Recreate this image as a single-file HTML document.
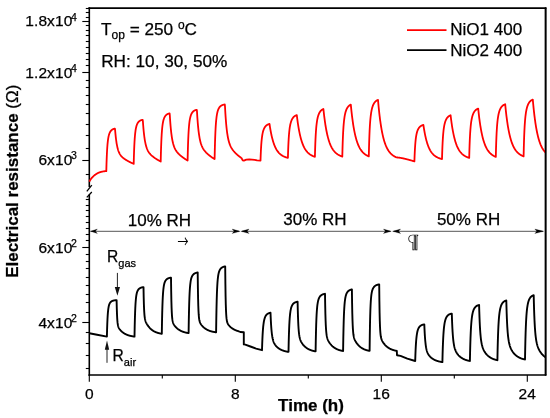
<!DOCTYPE html>
<html><head><meta charset="utf-8"><style>
html,body{margin:0;padding:0;background:#fff;}
svg{display:block;}
text{font-family:'Liberation Sans', Arial, sans-serif;fill:#000;stroke:#000;stroke-width:0.25px;}
</style></head><body>
<svg width="550" height="418" viewBox="0 0 550 418">
<rect width="550" height="418" fill="#fff"/>
<!-- frame -->
<g stroke="#000" stroke-width="1.6" fill="none" stroke-linecap="square">
<line x1="89.3" y1="8.1" x2="545.6" y2="8.1"/>
<line x1="545.6" y1="8.1" x2="545.6" y2="375.0"/>
<line x1="89.3" y1="375.0" x2="545.6" y2="375.0"/>
<line x1="89.3" y1="8.1" x2="89.3" y2="186.3"/>
<line x1="89.3" y1="195.4" x2="89.3" y2="375.0"/>
</g>
<g stroke="#000" stroke-width="1.3" fill="none">
<line x1="86.8" y1="191.3" x2="91.8" y2="185.2"/>
<line x1="86.8" y1="197.4" x2="91.8" y2="192.0"/>
</g>
<g stroke="#000" stroke-width="1.1"><line x1="85.8" y1="8.50" x2="89.3" y2="8.50"/><line x1="85.8" y1="12.50" x2="89.3" y2="12.50"/><line x1="85.8" y1="17.50" x2="89.3" y2="17.50"/><line x1="85.8" y1="25.50" x2="89.3" y2="25.50"/><line x1="85.8" y1="30.50" x2="89.3" y2="30.50"/><line x1="85.8" y1="35.50" x2="89.3" y2="35.50"/><line x1="85.8" y1="41.50" x2="89.3" y2="41.50"/><line x1="85.8" y1="47.50" x2="89.3" y2="47.50"/><line x1="85.8" y1="53.50" x2="89.3" y2="53.50"/><line x1="85.8" y1="59.50" x2="89.3" y2="59.50"/><line x1="85.8" y1="65.50" x2="89.3" y2="65.50"/><line x1="85.8" y1="80.50" x2="89.3" y2="80.50"/><line x1="85.8" y1="87.50" x2="89.3" y2="87.50"/><line x1="85.8" y1="95.50" x2="89.3" y2="95.50"/><line x1="85.8" y1="104.50" x2="89.3" y2="104.50"/><line x1="85.8" y1="113.50" x2="89.3" y2="113.50"/><line x1="85.8" y1="124.50" x2="89.3" y2="124.50"/><line x1="85.8" y1="135.50" x2="89.3" y2="135.50"/><line x1="85.8" y1="148.50" x2="89.3" y2="148.50"/><line x1="85.8" y1="174.50" x2="89.3" y2="174.50"/><line x1="85.8" y1="199.50" x2="89.3" y2="199.50"/><line x1="85.8" y1="205.50" x2="89.3" y2="205.50"/><line x1="85.8" y1="210.50" x2="89.3" y2="210.50"/><line x1="85.8" y1="216.50" x2="89.3" y2="216.50"/><line x1="85.8" y1="222.50" x2="89.3" y2="222.50"/><line x1="85.8" y1="228.50" x2="89.3" y2="228.50"/><line x1="85.8" y1="234.50" x2="89.3" y2="234.50"/><line x1="85.8" y1="240.50" x2="89.3" y2="240.50"/><line x1="85.8" y1="254.50" x2="89.3" y2="254.50"/><line x1="85.8" y1="261.50" x2="89.3" y2="261.50"/><line x1="85.8" y1="268.50" x2="89.3" y2="268.50"/><line x1="85.8" y1="277.50" x2="89.3" y2="277.50"/><line x1="85.8" y1="285.50" x2="89.3" y2="285.50"/><line x1="85.8" y1="294.50" x2="89.3" y2="294.50"/><line x1="85.8" y1="302.50" x2="89.3" y2="302.50"/><line x1="85.8" y1="312.50" x2="89.3" y2="312.50"/><line x1="85.8" y1="332.50" x2="89.3" y2="332.50"/><line x1="85.8" y1="343.50" x2="89.3" y2="343.50"/><line x1="85.8" y1="355.50" x2="89.3" y2="355.50"/><line x1="85.8" y1="368.50" x2="89.3" y2="368.50"/><line x1="82.3" y1="21.50" x2="89.3" y2="21.50"/><line x1="82.3" y1="72.50" x2="89.3" y2="72.50"/><line x1="82.3" y1="160.50" x2="89.3" y2="160.50"/><line x1="82.3" y1="247.50" x2="89.3" y2="247.50"/><line x1="82.3" y1="322.50" x2="89.3" y2="322.50"/><line x1="89.30" y1="375.0" x2="89.30" y2="381.8"/><line x1="235.30" y1="375.0" x2="235.30" y2="381.8"/><line x1="381.30" y1="375.0" x2="381.30" y2="381.8"/><line x1="527.30" y1="375.0" x2="527.30" y2="381.8"/><line x1="162.30" y1="375.0" x2="162.30" y2="378.5"/><line x1="308.30" y1="375.0" x2="308.30" y2="378.5"/><line x1="454.30" y1="375.0" x2="454.30" y2="378.5"/></g>
<!-- curves -->
<path d="M89.30 181.60L89.55 181.18L89.80 180.76L90.05 180.35L90.30 179.96L90.55 179.57L90.80 179.20L91.05 178.84L91.30 178.50L91.55 178.17L91.80 177.86L92.05 177.57L92.30 177.29L92.55 177.03L92.80 176.77L93.05 176.52L93.30 176.28L93.55 176.05L93.80 175.83L94.05 175.61L94.30 175.40L94.55 175.20L94.80 175.01L95.05 174.82L95.30 174.64L95.55 174.47L95.80 174.30L96.05 174.14L96.30 173.98L96.55 173.82L96.80 173.67L97.05 173.52L97.30 173.38L97.55 173.24L97.80 173.10L98.05 172.98L98.30 172.85L98.55 172.74L98.80 172.63L99.05 172.53L99.30 172.44L99.55 172.35L99.80 172.27L100.05 172.19L100.30 172.11L100.55 172.03L100.80 171.96L101.05 171.90L101.30 171.83L101.55 171.77L101.80 171.71L102.05 171.66L102.30 171.61L102.55 171.56L102.80 171.52L103.05 171.48L103.30 171.44L103.55 171.40L103.80 171.36L104.05 171.33L104.30 171.29L104.55 171.26L104.80 171.23L105.05 171.20L105.30 171.17L105.55 171.15L105.80 171.13L106.05 171.11L106.30 171.10L106.30 171.10L106.50 164.05L106.70 158.38L106.90 153.78L107.10 150.03L107.30 146.97L107.50 144.44L107.70 142.34L107.90 140.59L108.10 139.12L108.30 137.87L108.50 136.80L108.70 135.89L108.90 135.10L109.10 134.41L109.30 133.80L109.50 133.27L109.70 132.79L109.90 132.37L110.10 131.99L110.30 131.66L110.50 131.35L110.70 131.07L110.90 130.82L111.10 130.59L111.30 130.38L111.50 130.19L111.70 130.02L111.90 129.86L112.10 129.71L112.30 129.58L112.50 129.46L112.70 129.34L112.90 129.24L113.10 129.14L113.30 129.05L113.50 128.97L113.70 128.90L113.90 128.83L114.10 128.76L114.30 128.70L114.50 128.65L114.70 128.60L114.70 128.60L114.90 128.60L115.10 129.88L115.30 132.25L115.50 134.41L115.70 136.36L115.90 138.14L116.10 139.76L116.30 141.23L116.50 142.57L116.70 143.80L116.90 144.92L117.10 145.94L117.30 146.88L117.50 147.73L117.70 148.52L117.90 149.25L118.10 149.92L118.30 150.54L118.50 151.11L118.70 151.63L118.90 152.13L119.10 152.58L119.30 153.01L119.50 153.41L119.70 153.78L119.90 154.13L120.10 154.46L120.30 154.77L120.50 155.06L120.70 155.33L120.90 155.60L121.10 155.85L121.30 156.09L121.50 156.31L121.70 156.53L121.90 156.74L122.10 156.94L122.30 157.14L122.50 157.33L122.70 157.51L122.90 157.68L123.10 157.85L123.30 158.02L123.50 158.18L123.70 158.34L123.90 158.49L124.10 158.64L124.30 158.79L124.50 158.93L124.70 159.07L124.90 159.21L125.10 159.34L125.30 159.47L125.50 159.61L125.70 159.73L125.90 159.86L126.10 159.99L126.30 160.11L126.50 160.23L126.70 160.35L126.90 160.47L127.10 160.58L127.30 160.70L127.50 160.81L127.70 160.92L127.90 161.03L128.10 161.14L128.30 161.25L128.50 161.36L128.70 161.47L128.90 161.57L129.10 161.67L129.30 161.78L129.50 161.88L129.70 161.98L129.90 162.08L130.10 162.18L130.30 162.28L130.50 162.37L130.70 162.47L130.90 162.56L131.10 162.66L131.30 162.75L131.50 162.84L131.70 162.93L131.90 163.02L132.10 163.11L132.30 163.20L132.50 163.29L132.70 163.38L132.90 163.46L133.10 163.55L133.30 163.63L133.50 163.72L133.70 163.80L133.70 163.80L133.90 156.52L134.10 150.65L134.30 145.90L134.50 142.03L134.70 138.87L134.90 136.25L135.10 134.09L135.30 132.28L135.50 130.76L135.70 129.47L135.90 128.37L136.10 127.42L136.30 126.60L136.50 125.89L136.70 125.27L136.90 124.71L137.10 124.22L137.30 123.79L137.50 123.40L137.70 123.05L137.90 122.73L138.10 122.45L138.30 122.19L138.50 121.95L138.70 121.73L138.90 121.54L139.10 121.36L139.30 121.19L139.50 121.04L139.70 120.90L139.90 120.78L140.10 120.66L140.30 120.55L140.50 120.45L140.70 120.36L140.90 120.28L141.10 120.20L141.30 120.13L141.50 120.06L141.70 120.00L141.90 119.94L142.10 119.89L142.30 119.84L142.50 119.80L142.50 119.80L142.70 119.80L142.90 121.33L143.10 124.17L143.30 126.74L143.50 129.09L143.70 131.21L143.90 133.15L144.10 134.91L144.30 136.51L144.50 137.98L144.70 139.32L144.90 140.54L145.10 141.66L145.30 142.69L145.50 143.63L145.70 144.50L145.90 145.30L146.10 146.04L146.30 146.72L146.50 147.35L146.70 147.94L146.90 148.49L147.10 148.99L147.30 149.47L147.50 149.92L147.70 150.33L147.90 150.73L148.10 151.10L148.30 151.45L148.50 151.78L148.70 152.09L148.90 152.39L149.10 152.68L149.30 152.95L149.50 153.21L149.70 153.46L149.90 153.70L150.10 153.93L150.30 154.16L150.50 154.38L150.70 154.59L150.90 154.79L151.10 154.99L151.30 155.18L151.50 155.37L151.70 155.55L151.90 155.73L152.10 155.91L152.30 156.08L152.50 156.24L152.70 156.41L152.90 156.57L153.10 156.73L153.30 156.89L153.50 157.04L153.70 157.19L153.90 157.34L154.10 157.49L154.30 157.63L154.50 157.78L154.70 157.92L154.90 158.06L155.10 158.19L155.30 158.33L155.50 158.46L155.70 158.60L155.90 158.73L156.10 158.86L156.30 158.98L156.50 159.11L156.70 159.24L156.90 159.36L157.10 159.48L157.30 159.61L157.50 159.73L157.70 159.84L157.90 159.96L158.10 160.08L158.30 160.20L158.50 160.31L158.70 160.42L158.90 160.54L159.10 160.65L159.30 160.76L159.50 160.87L159.70 160.97L159.90 161.08L160.10 161.19L160.30 161.29L160.50 161.40L160.70 161.50L160.70 161.50L160.90 153.54L161.10 147.12L161.30 141.93L161.50 137.69L161.70 134.23L161.90 131.37L162.10 129.00L162.30 127.03L162.50 125.36L162.70 123.95L162.90 122.75L163.10 121.71L163.30 120.82L163.50 120.04L163.70 119.35L163.90 118.75L164.10 118.22L164.30 117.74L164.50 117.31L164.70 116.93L164.90 116.58L165.10 116.27L165.30 115.99L165.50 115.73L165.70 115.49L165.90 115.28L166.10 115.08L166.30 114.90L166.50 114.73L166.70 114.58L166.90 114.44L167.10 114.32L167.30 114.20L167.50 114.09L167.70 113.99L167.90 113.90L168.10 113.81L168.30 113.73L168.50 113.66L168.70 113.59L168.90 113.53L169.10 113.48L169.30 113.42L169.40 113.40L169.60 113.40L169.80 115.13L170.00 118.33L170.20 121.24L170.40 123.89L170.60 126.29L170.80 128.48L171.00 130.46L171.20 132.28L171.40 133.93L171.60 135.44L171.80 136.83L172.00 138.09L172.20 139.25L172.40 140.32L172.60 141.30L172.80 142.20L173.00 143.03L173.20 143.81L173.40 144.52L173.60 145.18L173.80 145.80L174.00 146.38L174.20 146.91L174.40 147.42L174.60 147.89L174.80 148.33L175.00 148.75L175.20 149.14L175.40 149.52L175.60 149.87L175.80 150.21L176.00 150.53L176.20 150.84L176.40 151.14L176.60 151.42L176.80 151.69L177.00 151.96L177.20 152.21L177.40 152.45L177.60 152.69L177.80 152.92L178.00 153.14L178.20 153.36L178.40 153.57L178.60 153.78L178.80 153.98L179.00 154.18L179.20 154.37L179.40 154.56L179.60 154.75L179.80 154.93L180.00 155.11L180.20 155.29L180.40 155.46L180.60 155.63L180.80 155.80L181.00 155.97L181.20 156.13L181.40 156.29L181.60 156.45L181.80 156.61L182.00 156.76L182.20 156.92L182.40 157.07L182.60 157.22L182.80 157.37L183.00 157.51L183.20 157.66L183.40 157.80L183.60 157.94L183.80 158.08L184.00 158.22L184.20 158.36L184.40 158.50L184.60 158.63L184.80 158.76L185.00 158.90L185.20 159.03L185.40 159.16L185.60 159.28L185.80 159.41L186.00 159.54L186.20 159.66L186.40 159.78L186.60 159.91L186.80 160.03L187.00 160.15L187.20 160.27L187.40 160.38L187.60 160.50L187.60 160.50L187.80 152.12L188.00 145.37L188.20 139.90L188.40 135.44L188.60 131.80L188.80 128.79L189.00 126.30L189.20 124.21L189.40 122.46L189.60 120.98L189.80 119.71L190.00 118.62L190.20 117.68L190.40 116.86L190.60 116.14L190.80 115.50L191.00 114.94L191.20 114.44L191.40 113.99L191.60 113.59L191.80 113.22L192.00 112.89L192.20 112.59L192.40 112.32L192.60 112.07L192.80 111.85L193.00 111.64L193.20 111.45L193.40 111.28L193.60 111.12L193.80 110.97L194.00 110.83L194.20 110.71L194.40 110.60L194.60 110.49L194.80 110.39L195.00 110.30L195.20 110.22L195.40 110.15L195.60 110.08L195.80 110.01L196.00 109.95L196.20 109.90L196.40 109.85L196.60 109.80L196.80 109.80L197.00 111.61L197.20 114.98L197.40 118.03L197.60 120.80L197.80 123.33L198.00 125.62L198.20 127.71L198.40 129.61L198.60 131.34L198.80 132.93L199.00 134.38L199.20 135.71L199.40 136.93L199.60 138.04L199.80 139.07L200.00 140.02L200.20 140.90L200.40 141.71L200.60 142.45L200.80 143.15L201.00 143.80L201.20 144.40L201.40 144.96L201.60 145.49L201.80 145.99L202.00 146.45L202.20 146.89L202.40 147.31L202.60 147.70L202.80 148.07L203.00 148.43L203.20 148.77L203.40 149.09L203.60 149.40L203.80 149.70L204.00 149.98L204.20 150.26L204.40 150.52L204.60 150.78L204.80 151.03L205.00 151.27L205.20 151.50L205.40 151.73L205.60 151.95L205.80 152.17L206.00 152.38L206.20 152.59L206.40 152.79L206.60 152.99L206.80 153.19L207.00 153.38L207.20 153.57L207.40 153.75L207.60 153.94L207.80 154.12L208.00 154.29L208.20 154.47L208.40 154.64L208.60 154.81L208.80 154.97L209.00 155.14L209.20 155.30L209.40 155.46L209.60 155.62L209.80 155.78L210.00 155.94L210.20 156.09L210.40 156.24L210.60 156.39L210.80 156.54L211.00 156.69L211.20 156.83L211.40 156.98L211.60 157.12L211.80 157.26L212.00 157.40L212.20 157.54L212.40 157.68L212.60 157.81L212.80 157.95L213.00 158.08L213.20 158.21L213.40 158.34L213.60 158.47L213.80 158.60L214.00 158.73L214.20 158.85L214.40 158.98L214.60 159.10L214.60 159.10L214.60 159.10L214.80 150.11L215.00 142.86L215.20 136.99L215.40 132.21L215.60 128.30L215.80 125.07L216.00 122.40L216.20 120.16L216.40 118.28L216.60 116.69L216.80 115.33L217.00 114.16L217.20 113.15L217.40 112.27L217.60 111.50L217.80 110.82L218.00 110.21L218.20 109.68L218.40 109.19L218.60 108.76L218.80 108.37L219.00 108.02L219.20 107.70L219.40 107.40L219.60 107.14L219.80 106.90L220.00 106.67L220.20 106.47L220.40 106.28L220.60 106.11L220.80 105.95L221.00 105.81L221.20 105.68L221.40 105.55L221.60 105.44L221.80 105.34L222.00 105.24L222.20 105.15L222.40 105.07L222.60 105.00L222.80 104.93L223.00 104.86L223.20 104.80L223.40 104.75L223.60 104.70L223.80 104.65L224.00 104.61L224.20 104.57L224.40 104.53L224.60 104.50L224.80 104.50L225.00 106.50L225.20 110.21L225.40 113.58L225.60 116.64L225.80 119.41L226.00 121.94L226.20 124.25L226.40 126.34L226.60 128.26L226.80 130.01L227.00 131.61L227.20 133.07L227.40 134.41L227.60 135.65L227.80 136.78L228.00 137.83L228.20 138.79L228.40 139.68L228.60 140.51L228.80 141.28L229.00 141.99L229.20 142.66L229.40 143.28L229.60 143.86L229.80 144.41L230.00 144.92L230.20 145.40L230.40 145.86L230.60 146.29L230.80 146.70L231.00 147.10L231.20 147.47L231.40 147.82L231.60 148.17L231.80 148.49L232.00 148.81L232.20 149.11L232.40 149.41L232.60 149.69L232.80 149.96L233.00 150.23L233.20 150.49L233.40 150.74L233.60 150.99L233.80 151.22L234.00 151.46L234.20 151.69L234.40 151.91L234.60 152.13L234.80 152.35L235.00 152.56L235.20 152.77L235.40 152.97L235.60 153.17L235.80 153.37L236.00 153.56L236.20 153.76L236.40 153.94L236.60 154.13L236.80 154.32L237.00 154.50L237.20 154.68L237.40 154.85L237.60 155.03L237.80 155.20L238.00 155.37L238.20 155.54L238.40 155.71L238.60 155.88L238.80 156.04L239.00 156.20L239.20 156.36L239.40 156.52L239.60 156.68L239.80 156.84L240.00 156.99L240.20 157.14L240.40 157.29L240.60 157.44L240.80 157.59L241.00 157.74L241.20 157.88L241.40 158.03L241.50 158.10L242.70 160.30L243.90 160.70L246.30 159.70L249.30 159.40L254.70 159.90L257.10 160.40L260.50 160.70L260.50 160.70L260.70 155.25L260.90 150.81L261.10 147.17L261.30 144.16L261.50 141.66L261.70 139.57L261.90 137.80L262.10 136.29L262.30 135.00L262.50 133.88L262.70 132.90L262.90 132.05L263.10 131.29L263.30 130.62L263.50 130.02L263.70 129.48L263.90 128.99L264.10 128.54L264.30 128.14L264.50 127.77L264.70 127.43L264.90 127.12L265.10 126.84L265.30 126.57L265.50 126.33L265.70 126.10L265.90 125.90L266.10 125.70L266.30 125.52L266.50 125.36L266.70 125.20L266.90 125.06L267.10 124.93L267.30 124.80L267.50 124.69L267.70 124.58L267.90 124.48L268.10 124.39L268.30 124.30L268.50 124.22L268.70 124.15L268.90 124.08L269.10 124.02L269.30 123.96L269.50 123.90L269.70 125.25L269.90 126.55L270.10 127.79L270.30 128.99L270.50 130.13L270.70 131.23L270.90 132.29L271.10 133.30L271.30 134.27L271.50 135.20L271.70 136.10L271.90 136.96L272.10 137.78L272.30 138.57L272.50 139.33L272.70 140.06L272.90 140.77L273.10 141.44L273.30 142.09L273.50 142.71L273.70 143.30L273.90 143.88L274.10 144.43L274.30 144.96L274.50 145.47L274.70 145.96L274.90 146.43L275.10 146.88L275.30 147.31L275.50 147.73L275.70 148.13L275.90 148.52L276.10 148.89L276.30 149.25L276.50 149.59L276.70 149.93L276.90 150.24L277.10 150.55L277.30 150.85L277.50 151.13L277.70 151.41L277.90 151.67L278.10 151.93L278.30 152.17L278.50 152.41L278.70 152.64L278.90 152.86L279.10 153.07L279.30 153.27L279.50 153.47L279.70 153.66L279.90 153.85L280.10 154.02L280.30 154.20L280.50 154.36L280.70 154.52L280.90 154.68L281.10 154.83L281.30 154.97L281.50 155.11L281.70 155.25L281.90 155.38L282.10 155.50L282.30 155.62L282.50 155.74L282.70 155.86L282.90 155.97L283.10 156.08L283.30 156.18L283.50 156.28L283.70 156.38L283.90 156.48L284.10 156.57L284.30 156.66L284.50 156.74L284.70 156.83L284.90 156.91L285.10 156.99L285.30 157.07L285.50 157.14L285.70 157.21L285.90 157.29L286.10 157.35L286.30 157.42L286.50 157.49L286.70 157.55L286.90 157.61L287.10 157.67L287.30 157.73L287.50 157.79L287.70 157.85L287.90 157.90L287.90 157.90L288.10 151.56L288.30 146.39L288.50 142.15L288.70 138.65L288.90 135.74L289.10 133.30L289.30 131.24L289.50 129.49L289.70 127.98L289.90 126.68L290.10 125.55L290.30 124.55L290.50 123.67L290.70 122.89L290.90 122.19L291.10 121.56L291.30 120.99L291.50 120.47L291.70 120.00L291.90 119.57L292.10 119.18L292.30 118.82L292.50 118.49L292.70 118.18L292.90 117.90L293.10 117.63L293.30 117.39L293.50 117.17L293.70 116.96L293.90 116.77L294.10 116.59L294.30 116.42L294.50 116.26L294.70 116.12L294.90 115.99L295.10 115.86L295.30 115.75L295.50 115.64L295.70 115.54L295.90 115.45L296.10 115.36L296.30 115.28L296.50 115.20L296.70 115.13L296.80 115.10L297.00 116.76L297.20 118.36L297.40 119.89L297.60 121.36L297.80 122.76L298.00 124.12L298.20 125.41L298.40 126.66L298.60 127.85L298.80 129.00L299.00 130.10L299.20 131.15L299.40 132.17L299.60 133.14L299.80 134.08L300.00 134.97L300.20 135.84L300.40 136.66L300.60 137.46L300.80 138.22L301.00 138.96L301.20 139.66L301.40 140.34L301.60 140.99L301.80 141.61L302.00 142.22L302.20 142.79L302.40 143.35L302.60 143.88L302.80 144.40L303.00 144.89L303.20 145.37L303.40 145.83L303.60 146.27L303.80 146.69L304.00 147.10L304.20 147.49L304.40 147.87L304.60 148.23L304.80 148.58L305.00 148.92L305.20 149.24L305.40 149.56L305.60 149.86L305.80 150.15L306.00 150.43L306.20 150.70L306.40 150.96L306.60 151.21L306.80 151.46L307.00 151.69L307.20 151.92L307.40 152.14L307.60 152.35L307.80 152.55L308.00 152.75L308.20 152.94L308.40 153.12L308.60 153.30L308.80 153.47L309.00 153.64L309.20 153.80L309.40 153.95L309.60 154.10L309.80 154.25L310.00 154.39L310.20 154.53L310.40 154.66L310.60 154.79L310.80 154.91L311.00 155.03L311.20 155.15L311.40 155.26L311.60 155.37L311.80 155.48L312.00 155.58L312.20 155.68L312.40 155.78L312.60 155.88L312.80 155.97L313.00 156.06L313.20 156.15L313.40 156.23L313.60 156.31L313.80 156.39L314.00 156.47L314.20 156.55L314.40 156.62L314.60 156.69L314.80 156.77L314.90 156.80L314.90 156.80L315.10 149.69L315.30 143.90L315.50 139.16L315.70 135.23L315.90 131.97L316.10 129.24L316.30 126.93L316.50 124.97L316.70 123.28L316.90 121.82L317.10 120.55L317.30 119.43L317.50 118.45L317.70 117.57L317.90 116.79L318.10 116.08L318.30 115.44L318.50 114.86L318.70 114.34L318.90 113.86L319.10 113.42L319.30 113.01L319.50 112.64L319.70 112.29L319.90 111.98L320.10 111.68L320.30 111.41L320.50 111.16L320.70 110.93L320.90 110.71L321.10 110.51L321.30 110.32L321.50 110.15L321.70 109.99L321.90 109.84L322.10 109.70L322.30 109.57L322.50 109.45L322.70 109.33L322.90 109.23L323.10 109.13L323.30 109.04L323.40 109.00L323.60 110.89L323.80 112.70L324.00 114.43L324.20 116.10L324.40 117.69L324.60 119.23L324.80 120.70L325.00 122.11L325.20 123.47L325.40 124.77L325.60 126.01L325.80 127.21L326.00 128.36L326.20 129.47L326.40 130.53L326.60 131.54L326.80 132.52L327.00 133.46L327.20 134.36L327.40 135.23L327.60 136.06L327.80 136.86L328.00 137.63L328.20 138.37L328.40 139.08L328.60 139.76L328.80 140.41L329.00 141.05L329.20 141.65L329.40 142.23L329.60 142.80L329.80 143.33L330.00 143.85L330.20 144.35L330.40 144.83L330.60 145.30L330.80 145.74L331.00 146.17L331.20 146.58L331.40 146.98L331.60 147.36L331.80 147.73L332.00 148.09L332.20 148.43L332.40 148.76L332.60 149.08L332.80 149.39L333.00 149.68L333.20 149.97L333.40 150.24L333.60 150.51L333.80 150.77L334.00 151.01L334.20 151.25L334.40 151.48L334.60 151.71L334.80 151.92L335.00 152.13L335.20 152.33L335.40 152.53L335.60 152.72L335.80 152.90L336.00 153.07L336.20 153.24L336.40 153.41L336.60 153.57L336.80 153.72L337.00 153.88L337.20 154.02L337.40 154.16L337.60 154.30L337.80 154.43L338.00 154.56L338.20 154.68L338.40 154.81L338.60 154.92L338.80 155.04L339.00 155.15L339.20 155.26L339.40 155.36L339.60 155.46L339.80 155.56L340.00 155.66L340.20 155.75L340.40 155.84L340.60 155.93L340.80 156.02L341.00 156.10L341.20 156.18L341.40 156.26L341.60 156.34L341.80 156.42L342.00 156.49L342.20 156.56L342.30 156.60L342.30 156.60L342.50 148.87L342.70 142.57L342.90 137.41L343.10 133.14L343.30 129.59L343.50 126.62L343.70 124.11L343.90 121.97L344.10 120.13L344.30 118.55L344.50 117.17L344.70 115.95L344.90 114.88L345.10 113.92L345.30 113.07L345.50 112.30L345.70 111.61L345.90 110.98L346.10 110.41L346.30 109.88L346.50 109.40L346.70 108.96L346.90 108.56L347.10 108.18L347.30 107.84L347.50 107.52L347.70 107.22L347.90 106.95L348.10 106.70L348.30 106.46L348.50 106.24L348.70 106.04L348.90 105.85L349.10 105.67L349.30 105.51L349.50 105.36L349.70 105.22L349.90 105.09L350.10 104.96L350.30 104.85L350.50 104.75L350.70 104.65L350.80 104.60L351.00 106.67L351.20 108.65L351.40 110.55L351.60 112.38L351.80 114.13L352.00 115.81L352.20 117.42L352.40 118.97L352.60 120.45L352.80 121.88L353.00 123.25L353.20 124.56L353.40 125.82L353.60 127.03L353.80 128.19L354.00 129.31L354.20 130.38L354.40 131.41L354.60 132.40L354.80 133.35L355.00 134.26L355.20 135.13L355.40 135.98L355.60 136.79L355.80 137.56L356.00 138.31L356.20 139.03L356.40 139.72L356.60 140.39L356.80 141.02L357.00 141.64L357.20 142.23L357.40 142.80L357.60 143.35L357.80 143.87L358.00 144.38L358.20 144.87L358.40 145.34L358.60 145.79L358.80 146.23L359.00 146.65L359.20 147.05L359.40 147.44L359.60 147.81L359.80 148.18L360.00 148.53L360.20 148.86L360.40 149.19L360.60 149.50L360.80 149.80L361.00 150.09L361.20 150.37L361.40 150.65L361.60 150.91L361.80 151.16L362.00 151.41L362.20 151.64L362.40 151.87L362.60 152.09L362.80 152.30L363.00 152.51L363.20 152.71L363.40 152.90L363.60 153.09L363.80 153.27L364.00 153.45L364.20 153.62L364.40 153.78L364.60 153.94L364.80 154.10L365.00 154.25L365.20 154.39L365.40 154.53L365.60 154.67L365.80 154.80L366.00 154.93L366.20 155.06L366.40 155.18L366.60 155.29L366.80 155.41L367.00 155.52L367.20 155.63L367.40 155.74L367.60 155.84L367.80 155.94L368.00 156.04L368.20 156.13L368.40 156.22L368.60 156.31L368.80 156.40L368.80 156.40L368.80 156.40L369.00 148.05L369.20 141.24L369.40 135.66L369.60 131.05L369.80 127.21L370.00 124.00L370.20 121.29L370.40 118.98L370.60 116.99L370.80 115.28L371.00 113.78L371.20 112.47L371.40 111.31L371.60 110.28L371.80 109.36L372.00 108.53L372.20 107.78L372.40 107.10L372.60 106.48L372.80 105.92L373.00 105.40L373.20 104.92L373.40 104.48L373.60 104.08L373.80 103.71L374.00 103.36L374.20 103.04L374.40 102.74L374.60 102.47L374.80 102.22L375.00 101.98L375.20 101.76L375.40 101.56L375.60 101.37L375.80 101.19L376.00 101.03L376.20 100.87L376.40 100.73L376.60 100.60L376.80 100.48L377.00 100.36L377.20 100.26L377.40 100.16L377.60 100.07L377.80 99.98L378.00 99.90L378.20 102.19L378.40 104.38L378.60 106.49L378.80 108.51L379.00 110.44L379.20 112.30L379.40 114.09L379.60 115.80L379.80 117.44L380.00 119.02L380.20 120.53L380.40 121.98L380.60 123.38L380.80 124.72L381.00 126.00L381.20 127.24L381.40 128.42L381.60 129.56L381.80 130.65L382.00 131.71L382.20 132.71L382.40 133.68L382.60 134.62L382.80 135.51L383.00 136.37L383.20 137.20L383.40 137.99L383.60 138.76L383.80 139.49L384.00 140.20L384.20 140.88L384.40 141.54L384.60 142.16L384.80 142.77L385.00 143.35L385.20 143.91L385.40 144.45L385.60 144.97L385.80 145.47L386.00 145.96L386.20 146.42L386.40 146.87L386.60 147.30L386.80 147.71L387.00 148.11L387.20 148.50L387.40 148.87L387.60 149.23L387.80 149.58L388.00 149.91L388.20 150.23L388.40 150.55L388.60 150.85L388.80 151.14L389.00 151.42L389.20 151.69L389.40 151.95L389.60 152.20L389.80 152.45L390.00 152.68L390.20 152.91L390.40 153.13L390.60 153.35L390.80 153.55L391.00 153.75L391.20 153.95L391.40 154.13L391.60 154.32L391.80 154.49L392.00 154.66L392.20 154.83L392.40 154.99L392.60 155.15L392.80 155.30L393.00 155.44L393.20 155.59L393.40 155.73L393.60 155.86L393.80 155.99L394.00 156.12L394.20 156.24L394.40 156.36L394.60 156.48L394.80 156.59L395.00 156.70L395.20 156.81L395.40 156.91L395.60 157.02L395.80 157.12L396.00 157.21L396.20 157.31L396.40 157.40L396.65 157.42L396.90 157.44L397.15 157.46L397.40 157.49L397.65 157.51L397.90 157.54L398.15 157.56L398.40 157.59L398.65 157.62L398.90 157.65L399.15 157.68L399.40 157.72L399.65 157.75L399.90 157.79L400.15 157.82L400.40 157.86L400.65 157.90L400.90 157.94L401.15 157.99L401.40 158.03L401.65 158.08L401.90 158.13L402.15 158.18L402.40 158.23L402.65 158.28L402.90 158.34L403.15 158.39L403.40 158.45L403.65 158.50L403.90 158.56L404.15 158.62L404.40 158.68L404.65 158.74L404.90 158.80L405.15 158.86L405.40 158.93L405.65 158.99L405.90 159.05L406.15 159.11L406.40 159.18L406.65 159.24L406.90 159.30L407.15 159.36L407.40 159.42L407.65 159.49L407.90 159.55L408.15 159.61L408.40 159.68L408.65 159.74L408.90 159.81L409.15 159.87L409.40 159.94L409.65 160.01L409.90 160.08L410.15 160.15L410.40 160.22L410.65 160.29L410.90 160.36L411.15 160.43L411.40 160.50L411.65 160.57L411.90 160.64L412.15 160.72L412.40 160.79L412.65 160.87L412.90 160.94L413.15 161.02L413.40 161.09L413.65 161.17L413.90 161.24L414.15 161.32L414.40 161.40L414.40 161.40L414.60 156.00L414.80 151.59L415.00 147.98L415.20 145.00L415.40 142.52L415.60 140.44L415.80 138.68L416.00 137.19L416.20 135.91L416.40 134.80L416.60 133.83L416.80 132.98L417.00 132.23L417.20 131.57L417.40 130.97L417.60 130.43L417.80 129.95L418.00 129.51L418.20 129.11L418.40 128.74L418.60 128.40L418.80 128.10L419.00 127.81L419.20 127.55L419.40 127.31L419.60 127.09L419.80 126.88L420.00 126.69L420.20 126.51L420.40 126.35L420.60 126.19L420.80 126.05L421.00 125.92L421.20 125.80L421.40 125.68L421.60 125.58L421.80 125.48L422.00 125.39L422.20 125.30L422.40 125.22L422.60 125.15L422.80 125.08L423.00 125.02L423.20 124.96L423.40 124.90L423.60 126.26L423.80 127.56L424.00 128.81L424.20 130.01L424.40 131.16L424.60 132.27L424.80 133.32L425.00 134.34L425.20 135.32L425.40 136.25L425.60 137.15L425.80 138.01L426.00 138.84L426.20 139.64L426.40 140.40L426.60 141.13L426.80 141.84L427.00 142.51L427.20 143.16L427.40 143.79L427.60 144.39L427.80 144.96L428.00 145.52L428.20 146.05L428.40 146.56L428.60 147.05L428.80 147.52L429.00 147.98L429.20 148.41L429.40 148.83L429.60 149.24L429.80 149.63L430.00 150.00L430.20 150.36L430.40 150.70L430.60 151.04L430.80 151.36L431.00 151.67L431.20 151.96L431.40 152.25L431.60 152.53L431.80 152.79L432.00 153.05L432.20 153.29L432.40 153.53L432.60 153.76L432.80 153.98L433.00 154.20L433.20 154.40L433.40 154.60L433.60 154.79L433.80 154.98L434.00 155.15L434.20 155.33L434.40 155.49L434.60 155.65L434.80 155.81L435.00 155.96L435.20 156.10L435.40 156.24L435.60 156.38L435.80 156.51L436.00 156.64L436.20 156.76L436.40 156.88L436.60 157.00L436.80 157.11L437.00 157.22L437.20 157.32L437.40 157.42L437.60 157.52L437.80 157.62L438.00 157.71L438.20 157.80L438.40 157.89L438.60 157.97L438.80 158.05L439.00 158.13L439.20 158.21L439.40 158.29L439.60 158.36L439.80 158.43L440.00 158.50L440.20 158.57L440.40 158.63L440.60 158.70L440.80 158.76L441.00 158.82L441.20 158.88L441.40 158.94L441.60 158.99L441.80 159.05L442.00 159.10L442.00 159.10L442.00 159.10L442.20 152.60L442.40 147.29L442.60 142.95L442.80 139.36L443.00 136.37L443.20 133.87L443.40 131.75L443.60 129.96L443.80 128.41L444.00 127.08L444.20 125.91L444.40 124.89L444.60 123.99L444.80 123.19L445.00 122.47L445.20 121.82L445.40 121.24L445.60 120.71L445.80 120.22L446.00 119.78L446.20 119.38L446.40 119.01L446.60 118.67L446.80 118.35L447.00 118.06L447.20 117.79L447.40 117.55L447.60 117.31L447.80 117.10L448.00 116.90L448.20 116.72L448.40 116.55L448.60 116.39L448.80 116.24L449.00 116.10L449.20 115.98L449.40 115.86L449.60 115.75L449.80 115.64L450.00 115.55L450.20 115.46L450.40 115.38L450.60 115.30L450.60 115.30L450.80 116.99L451.00 118.62L451.20 120.17L451.40 121.67L451.60 123.10L451.80 124.47L452.00 125.79L452.20 127.06L452.40 128.28L452.60 129.44L452.80 130.56L453.00 131.64L453.20 132.67L453.40 133.66L453.60 134.61L453.80 135.52L454.00 136.40L454.20 137.24L454.40 138.05L454.60 138.83L454.80 139.57L455.00 140.29L455.20 140.98L455.40 141.64L455.60 142.28L455.80 142.89L456.00 143.48L456.20 144.04L456.40 144.59L456.60 145.11L456.80 145.61L457.00 146.10L457.20 146.56L457.40 147.01L457.60 147.44L457.80 147.86L458.00 148.26L458.20 148.64L458.40 149.01L458.60 149.37L458.80 149.71L459.00 150.04L459.20 150.36L459.40 150.67L459.60 150.96L459.80 151.25L460.00 151.53L460.20 151.79L460.40 152.05L460.60 152.29L460.80 152.53L461.00 152.76L461.20 152.99L461.40 153.20L461.60 153.41L461.80 153.61L462.00 153.80L462.20 153.99L462.40 154.17L462.60 154.34L462.80 154.51L463.00 154.68L463.20 154.83L463.40 154.99L463.60 155.14L463.80 155.28L464.00 155.42L464.20 155.55L464.40 155.68L464.60 155.81L464.80 155.93L465.00 156.05L465.20 156.17L465.40 156.28L465.60 156.39L465.80 156.49L466.00 156.59L466.20 156.69L466.40 156.79L466.60 156.88L466.80 156.98L467.00 157.07L467.20 157.15L467.40 157.24L467.60 157.32L467.80 157.40L468.00 157.47L468.20 157.55L468.40 157.62L468.60 157.70L468.80 157.77L469.00 157.83L469.20 157.90L469.20 157.90L469.40 150.60L469.60 144.65L469.80 139.78L470.00 135.75L470.20 132.40L470.40 129.59L470.60 127.22L470.80 125.20L471.00 123.47L471.20 121.97L471.40 120.66L471.60 119.52L471.80 118.50L472.00 117.60L472.20 116.80L472.40 116.07L472.60 115.42L472.80 114.82L473.00 114.28L473.20 113.79L473.40 113.33L473.60 112.92L473.80 112.53L474.00 112.18L474.20 111.86L474.40 111.55L474.60 111.27L474.80 111.02L475.00 110.78L475.20 110.55L475.40 110.35L475.60 110.16L475.80 109.98L476.00 109.81L476.20 109.66L476.40 109.51L476.60 109.38L476.80 109.26L477.00 109.14L477.20 109.03L477.40 108.93L477.60 108.84L477.80 108.76L478.00 108.67L478.20 108.60L478.40 110.53L478.60 112.39L478.80 114.17L479.00 115.88L479.20 117.52L479.40 119.09L479.60 120.60L479.80 122.04L480.00 123.43L480.20 124.77L480.40 126.05L480.60 127.27L480.80 128.45L481.00 129.59L481.20 130.67L481.40 131.72L481.60 132.72L481.80 133.68L482.00 134.61L482.20 135.50L482.40 136.35L482.60 137.17L482.80 137.96L483.00 138.71L483.20 139.44L483.40 140.14L483.60 140.81L483.80 141.46L484.00 142.08L484.20 142.68L484.40 143.26L484.60 143.81L484.80 144.34L485.00 144.85L485.20 145.35L485.40 145.82L485.60 146.28L485.80 146.72L486.00 147.14L486.20 147.55L486.40 147.94L486.60 148.32L486.80 148.68L487.00 149.03L487.20 149.37L487.40 149.70L487.60 150.01L487.80 150.32L488.00 150.61L488.20 150.89L488.40 151.16L488.60 151.43L488.80 151.68L489.00 151.93L489.20 152.16L489.40 152.39L489.60 152.61L489.80 152.83L490.00 153.03L490.20 153.23L490.40 153.43L490.60 153.61L490.80 153.80L491.00 153.97L491.20 154.14L491.40 154.30L491.60 154.46L491.80 154.62L492.00 154.77L492.20 154.91L492.40 155.05L492.60 155.19L492.80 155.32L493.00 155.45L493.20 155.57L493.40 155.69L493.60 155.81L493.80 155.92L494.00 156.03L494.20 156.14L494.40 156.24L494.60 156.35L494.80 156.44L495.00 156.54L495.20 156.63L495.40 156.72L495.60 156.81L495.80 156.90L495.80 156.90L495.80 156.90L496.00 149.13L496.20 142.81L496.40 137.61L496.60 133.33L496.80 129.76L497.00 126.78L497.20 124.25L497.40 122.11L497.60 120.26L497.80 118.67L498.00 117.28L498.20 116.06L498.40 114.98L498.60 114.02L498.80 113.16L499.00 112.39L499.20 111.70L499.40 111.06L499.60 110.49L499.80 109.96L500.00 109.48L500.20 109.04L500.40 108.63L500.60 108.25L500.80 107.91L501.00 107.59L501.20 107.29L501.40 107.01L501.60 106.76L501.80 106.52L502.00 106.30L502.20 106.10L502.40 105.91L502.60 105.73L502.80 105.57L503.00 105.42L503.20 105.27L503.40 105.14L503.60 105.02L503.80 104.91L504.00 104.80L504.20 104.70L504.40 104.61L504.60 104.52L504.80 104.44L505.00 104.37L505.20 104.30L505.40 106.37L505.60 108.36L505.80 110.27L506.00 112.10L506.20 113.85L506.40 115.54L506.60 117.15L506.80 118.71L507.00 120.19L507.20 121.62L507.40 122.99L507.60 124.31L507.80 125.57L508.00 126.79L508.20 127.95L508.40 129.07L508.60 130.14L508.80 131.18L509.00 132.17L509.20 133.12L509.40 134.03L509.60 134.91L509.80 135.76L510.00 136.57L510.20 137.35L510.40 138.10L510.60 138.82L510.80 139.51L511.00 140.18L511.20 140.82L511.40 141.43L511.60 142.03L511.80 142.60L512.00 143.14L512.20 143.67L512.40 144.18L512.60 144.67L512.80 145.14L513.00 145.59L513.20 146.03L513.40 146.45L513.60 146.86L513.80 147.25L514.00 147.62L514.20 147.99L514.40 148.34L514.60 148.67L514.80 149.00L515.00 149.31L515.20 149.62L515.40 149.91L515.60 150.19L515.80 150.46L516.00 150.72L516.20 150.98L516.40 151.22L516.60 151.46L516.80 151.69L517.00 151.91L517.20 152.13L517.40 152.33L517.60 152.53L517.80 152.73L518.00 152.91L518.20 153.10L518.40 153.27L518.60 153.44L518.80 153.61L519.00 153.77L519.20 153.92L519.40 154.07L519.60 154.22L519.80 154.36L520.00 154.50L520.20 154.63L520.40 154.76L520.60 154.88L520.80 155.00L521.00 155.12L521.20 155.24L521.40 155.35L521.60 155.46L521.80 155.56L522.00 155.67L522.20 155.77L522.40 155.87L522.60 155.96L522.80 156.05L523.00 156.14L523.20 156.23L523.40 156.32L523.60 156.40L523.60 156.40L523.60 156.40L523.80 148.00L524.00 141.16L524.20 135.55L524.40 130.91L524.60 127.06L524.80 123.83L525.00 121.10L525.20 118.78L525.40 116.78L525.60 115.06L525.80 113.56L526.00 112.24L526.20 111.07L526.40 110.04L526.60 109.11L526.80 108.28L527.00 107.52L527.20 106.84L527.40 106.22L527.60 105.65L527.80 105.13L528.00 104.65L528.20 104.21L528.40 103.80L528.60 103.43L528.80 103.08L529.00 102.76L529.20 102.46L529.40 102.18L529.60 101.93L529.80 101.69L530.00 101.47L530.20 101.26L530.40 101.07L530.60 100.90L530.80 100.73L531.00 100.58L531.20 100.44L531.40 100.30L531.60 100.18L531.80 100.07L532.00 99.96L532.20 99.86L532.40 99.77L532.60 99.68L532.80 99.60L533.00 101.86L533.20 104.03L533.40 106.11L533.60 108.10L533.80 110.02L534.00 111.85L534.20 113.61L534.40 115.30L534.60 116.93L534.80 118.49L535.00 119.98L535.20 121.42L535.40 122.79L535.60 124.12L535.80 125.39L536.00 126.61L536.20 127.78L536.40 128.90L536.60 129.98L536.80 131.02L537.00 132.02L537.20 132.97L537.40 133.89L537.60 134.78L537.80 135.63L538.00 136.45L538.20 137.23L538.40 137.99L538.60 138.71L538.80 139.41L539.00 140.08L539.20 140.73L539.40 141.35L539.60 141.95L539.80 142.52L540.00 143.08L540.20 143.61L540.40 144.13L540.60 144.62L540.80 145.10L541.00 145.55L541.20 146.00L541.40 146.42L541.60 146.83L541.80 147.23L542.00 147.61L542.20 147.98L542.40 148.33L542.60 148.67L542.80 149.00L543.00 149.32L543.20 149.63L543.40 149.93L543.60 150.21L543.80 150.49L544.00 150.76L544.20 151.02L544.40 151.27L544.60 151.51L544.80 151.74L545.00 151.97L545.20 152.18L545.40 152.40L545.60 152.60L545.60 152.60" fill="none" stroke="#ff0000" stroke-width="1.8" stroke-linejoin="round"/>
<path d="M89.30 333.30L97.10 334.80L106.90 336.60L106.90 336.60L107.10 329.06L107.30 323.27L107.50 318.80L107.70 315.35L107.90 312.65L108.10 310.54L108.30 308.87L108.50 307.55L108.70 306.48L108.90 305.61L109.10 304.90L109.30 304.32L109.50 303.82L109.70 303.41L109.90 303.05L110.10 302.75L110.30 302.48L110.50 302.24L110.70 302.04L110.90 301.85L111.10 301.69L111.30 301.54L111.50 301.41L111.70 301.28L111.90 301.17L112.10 301.07L112.30 300.98L112.50 300.90L112.70 300.82L112.90 300.75L113.10 300.68L113.30 300.62L113.50 300.57L113.70 300.52L113.90 300.47L114.10 300.43L114.30 300.39L114.50 300.35L114.70 300.32L114.90 300.28L115.10 300.26L115.30 300.23L115.50 300.20L115.70 300.18L115.90 300.16L116.10 300.14L116.30 300.12L116.50 300.11L116.60 300.10L116.80 308.50L117.00 314.24L117.20 318.21L117.40 320.98L117.60 322.95L117.80 324.37L118.00 325.42L118.20 326.23L118.40 326.86L118.60 327.38L118.80 327.82L119.00 328.20L119.20 328.54L119.40 328.85L119.60 329.14L119.80 329.41L120.00 329.66L120.20 329.90L120.40 330.14L120.60 330.36L120.80 330.58L121.00 330.79L121.20 330.99L121.40 331.19L121.60 331.38L121.80 331.56L122.00 331.74L122.20 331.91L122.40 332.08L122.60 332.24L122.80 332.40L123.00 332.55L123.20 332.70L123.40 332.84L123.60 332.98L123.80 333.12L124.00 333.25L124.20 333.37L124.40 333.50L124.60 333.62L124.80 333.73L125.00 333.84L125.20 333.95L125.40 334.06L125.60 334.16L125.80 334.26L126.00 334.36L126.20 334.45L126.40 334.54L126.60 334.63L126.80 334.71L127.00 334.79L127.20 334.87L127.40 334.95L127.60 335.03L127.80 335.10L128.00 335.17L128.20 335.24L128.40 335.31L128.60 335.37L128.80 335.43L129.00 335.49L129.20 335.55L129.40 335.61L129.60 335.66L129.80 335.72L130.00 335.77L130.20 335.82L130.40 335.87L130.60 335.92L130.80 335.96L131.00 336.01L131.20 336.05L131.40 336.09L131.60 336.13L131.80 336.17L132.00 336.21L132.20 336.25L132.40 336.28L132.60 336.32L132.80 336.35L133.00 336.38L133.20 336.42L133.40 336.45L133.60 336.48L133.80 336.51L134.00 336.53L134.20 336.56L134.40 336.59L134.50 336.60L134.50 336.60L134.70 326.35L134.90 318.49L135.10 312.42L135.30 307.73L135.50 304.07L135.70 301.20L135.90 298.94L136.10 297.13L136.30 295.68L136.50 294.51L136.70 293.54L136.90 292.74L137.10 292.07L137.30 291.51L137.50 291.03L137.70 290.61L137.90 290.25L138.10 289.93L138.30 289.65L138.50 289.40L138.70 289.17L138.90 288.97L139.10 288.79L139.30 288.63L139.50 288.48L139.70 288.34L139.90 288.21L140.10 288.10L140.30 287.99L140.50 287.90L140.70 287.81L140.90 287.73L141.10 287.65L141.30 287.58L141.50 287.52L141.70 287.46L141.90 287.41L142.10 287.36L142.30 287.31L142.50 287.27L142.70 287.23L142.90 287.19L143.10 287.16L143.30 287.13L143.50 287.10L143.70 297.42L143.90 304.50L144.10 309.41L144.30 312.85L144.50 315.31L144.70 317.10L144.90 318.45L145.10 319.48L145.30 320.31L145.50 321.00L145.70 321.58L145.90 322.09L146.10 322.55L146.30 322.97L146.50 323.37L146.70 323.74L146.90 324.09L147.10 324.43L147.30 324.75L147.50 325.06L147.70 325.36L147.90 325.65L148.10 325.94L148.30 326.21L148.50 326.47L148.70 326.73L148.90 326.97L149.10 327.21L149.30 327.45L149.50 327.67L149.70 327.89L149.90 328.10L150.10 328.31L150.30 328.51L150.50 328.70L150.70 328.89L150.90 329.07L151.10 329.25L151.30 329.42L151.50 329.58L151.70 329.74L151.90 329.90L152.10 330.05L152.30 330.20L152.50 330.34L152.70 330.48L152.90 330.61L153.10 330.74L153.30 330.87L153.50 330.99L153.70 331.11L153.90 331.22L154.10 331.33L154.30 331.44L154.50 331.54L154.70 331.65L154.90 331.74L155.10 331.84L155.30 331.93L155.50 332.02L155.70 332.11L155.90 332.19L156.10 332.27L156.30 332.35L156.50 332.43L156.70 332.50L156.90 332.58L157.10 332.65L157.30 332.71L157.50 332.78L157.70 332.84L157.90 332.91L158.10 332.97L158.30 333.02L158.50 333.08L158.70 333.14L158.90 333.19L159.10 333.24L159.30 333.29L159.50 333.34L159.70 333.39L159.90 333.43L160.10 333.47L160.30 333.52L160.50 333.56L160.70 333.60L160.90 333.64L161.10 333.68L161.30 333.71L161.50 333.75L161.70 333.78L161.80 333.80L161.80 333.80L162.00 322.17L162.20 313.25L162.40 306.37L162.60 301.04L162.80 296.89L163.00 293.63L163.20 291.06L163.40 289.01L163.60 287.37L163.80 286.03L164.00 284.94L164.20 284.03L164.40 283.27L164.60 282.63L164.80 282.09L165.00 281.61L165.20 281.20L165.40 280.84L165.60 280.52L165.80 280.24L166.00 279.98L166.20 279.75L166.40 279.55L166.60 279.36L166.80 279.19L167.00 279.03L167.20 278.89L167.40 278.76L167.60 278.64L167.80 278.53L168.00 278.43L168.20 278.34L168.40 278.26L168.60 278.18L168.80 278.11L169.00 278.04L169.20 277.98L169.40 277.92L169.60 277.87L169.80 277.82L170.00 277.78L170.20 277.73L170.40 277.70L170.60 277.66L170.80 277.63L171.00 277.60L171.20 291.82L171.40 301.49L171.60 308.10L171.80 312.66L172.00 315.83L172.20 318.08L172.40 319.70L172.60 320.90L172.80 321.80L173.00 322.52L173.20 323.10L173.40 323.58L173.60 324.01L173.80 324.38L174.00 324.72L174.20 325.03L174.40 325.33L174.60 325.61L174.80 325.87L175.00 326.13L175.20 326.37L175.40 326.61L175.60 326.84L175.80 327.06L176.00 327.27L176.20 327.48L176.40 327.68L176.60 327.87L176.80 328.06L177.00 328.24L177.20 328.42L177.40 328.59L177.60 328.76L177.80 328.92L178.00 329.08L178.20 329.23L178.40 329.38L178.60 329.52L178.80 329.66L179.00 329.79L179.20 329.92L179.40 330.05L179.60 330.17L179.80 330.29L180.00 330.40L180.20 330.51L180.40 330.62L180.60 330.73L180.80 330.83L181.00 330.93L181.20 331.02L181.40 331.11L181.60 331.20L181.80 331.29L182.00 331.38L182.20 331.46L182.40 331.54L182.60 331.61L182.80 331.69L183.00 331.76L183.20 331.83L183.40 331.90L183.60 331.97L183.80 332.03L184.00 332.09L184.20 332.15L184.40 332.21L184.60 332.27L184.80 332.32L185.00 332.38L185.20 332.43L185.40 332.48L185.60 332.53L185.80 332.57L186.00 332.62L186.20 332.66L186.40 332.71L186.60 332.75L186.80 332.79L187.00 332.83L187.20 332.86L187.40 332.90L187.60 332.94L187.80 332.97L188.00 333.01L188.20 333.04L188.40 333.07L188.60 333.10L188.60 333.10L188.60 333.10L188.80 320.56L189.00 310.93L189.20 303.51L189.40 297.76L189.60 293.29L189.80 289.78L190.00 287.00L190.20 284.79L190.40 283.02L190.60 281.58L190.80 280.40L191.00 279.42L191.20 278.60L191.40 277.91L191.60 277.32L191.80 276.81L192.00 276.37L192.20 275.98L192.40 275.64L192.60 275.33L192.80 275.06L193.00 274.81L193.20 274.59L193.40 274.38L193.60 274.20L193.80 274.03L194.00 273.88L194.20 273.74L194.40 273.61L194.60 273.49L194.80 273.38L195.00 273.28L195.20 273.19L195.40 273.11L195.60 273.03L195.80 272.96L196.00 272.89L196.20 272.83L196.40 272.77L196.60 272.72L196.80 272.67L197.00 272.63L197.20 272.59L197.40 272.55L197.60 272.52L197.70 272.50L197.90 288.14L198.10 298.76L198.30 306.00L198.50 310.98L198.70 314.44L198.90 316.87L199.10 318.62L199.30 319.90L199.50 320.86L199.70 321.61L199.90 322.21L200.10 322.72L200.30 323.15L200.50 323.53L200.70 323.87L200.90 324.18L201.10 324.48L201.30 324.76L201.50 325.02L201.70 325.28L201.90 325.52L202.10 325.75L202.30 325.98L202.50 326.20L202.70 326.41L202.90 326.62L203.10 326.81L203.30 327.01L203.50 327.19L203.70 327.37L203.90 327.55L204.10 327.72L204.30 327.88L204.50 328.04L204.70 328.20L204.90 328.35L205.10 328.50L205.30 328.64L205.50 328.77L205.70 328.91L205.90 329.04L206.10 329.16L206.30 329.28L206.50 329.40L206.70 329.51L206.90 329.62L207.10 329.73L207.30 329.83L207.50 329.94L207.70 330.03L207.90 330.13L208.10 330.22L208.30 330.31L208.50 330.39L208.70 330.48L208.90 330.56L209.10 330.64L209.30 330.71L209.50 330.79L209.70 330.86L209.90 330.93L210.10 331.00L210.30 331.06L210.50 331.13L210.70 331.19L210.90 331.25L211.10 331.31L211.30 331.36L211.50 331.42L211.70 331.47L211.90 331.52L212.10 331.57L212.30 331.62L212.50 331.66L212.70 331.71L212.90 331.75L213.10 331.80L213.30 331.84L213.50 331.88L213.70 331.92L213.90 331.95L214.10 331.99L214.30 332.03L214.50 332.06L214.70 332.09L214.90 332.13L215.10 332.16L215.30 332.19L215.50 332.22L215.70 332.25L215.90 332.27L216.10 332.30L216.10 332.30L216.10 332.30L216.30 318.66L216.50 308.19L216.70 300.12L216.90 293.87L217.10 289.00L217.30 285.19L217.50 282.17L217.70 279.77L217.90 277.84L218.10 276.27L218.30 274.99L218.50 273.93L218.70 273.04L218.90 272.29L219.10 271.64L219.30 271.09L219.50 270.61L219.70 270.18L219.90 269.81L220.10 269.48L220.30 269.18L220.50 268.91L220.70 268.67L220.90 268.45L221.10 268.25L221.30 268.07L221.50 267.90L221.70 267.75L221.90 267.61L222.10 267.48L222.30 267.36L222.50 267.25L222.70 267.15L222.90 267.06L223.10 266.98L223.30 266.90L223.50 266.83L223.70 266.76L223.90 266.70L224.10 266.64L224.30 266.59L224.50 266.54L224.70 266.50L224.90 266.46L225.10 266.42L225.20 266.40L225.40 284.34L225.60 296.49L225.80 304.75L226.00 310.40L226.20 314.30L226.40 317.02L226.60 318.94L226.80 320.33L227.00 321.36L227.20 322.15L227.40 322.77L227.60 323.27L227.80 323.69L228.00 324.06L228.20 324.38L228.40 324.68L228.60 324.96L228.80 325.22L229.00 325.46L229.20 325.69L229.40 325.92L229.60 326.13L229.80 326.34L230.00 326.54L230.20 326.73L230.40 326.92L230.60 327.10L230.80 327.28L231.00 327.45L231.20 327.62L231.40 327.78L231.60 327.93L231.80 328.08L232.00 328.23L232.20 328.37L232.40 328.51L232.60 328.64L232.80 328.77L233.00 328.89L233.20 329.02L233.40 329.13L233.60 329.25L233.80 329.36L234.00 329.47L234.20 329.57L234.40 329.67L234.60 329.77L234.80 329.86L235.00 329.96L235.20 330.04L235.40 330.13L235.60 330.21L235.80 330.30L236.00 330.37L236.20 330.45L236.40 330.53L236.60 330.60L236.80 330.67L237.00 330.74L237.20 330.80L237.40 330.86L237.60 330.93L237.80 330.99L238.00 331.04L238.20 331.10L238.20 331.10L240.30 332.00L243.80 332.20L243.80 344.40L245.30 344.60L250.40 346.50L256.10 348.60L262.00 350.20L262.00 350.20L262.20 343.99L262.40 338.98L262.60 334.92L262.80 331.62L263.00 328.92L263.20 326.69L263.40 324.84L263.60 323.29L263.80 322.00L264.00 320.90L264.20 319.96L264.40 319.15L264.60 318.45L264.80 317.84L265.00 317.31L265.20 316.84L265.40 316.42L265.60 316.05L265.80 315.71L266.00 315.42L266.20 315.15L266.40 314.90L266.60 314.68L266.80 314.48L267.00 314.29L267.20 314.13L267.40 313.97L267.60 313.83L267.80 313.70L268.00 313.58L268.20 313.48L268.40 313.37L268.60 313.28L268.80 313.20L269.00 313.12L269.20 313.05L269.40 312.98L269.60 312.92L269.80 312.86L270.00 312.81L270.20 312.76L270.40 312.72L270.50 312.70L270.70 317.56L270.90 321.61L271.10 325.00L271.30 327.85L271.50 330.24L271.70 332.27L271.90 333.99L272.10 335.46L272.30 336.73L272.50 337.82L272.70 338.77L272.90 339.60L273.10 340.34L273.30 340.99L273.50 341.57L273.70 342.09L273.90 342.57L274.10 343.01L274.30 343.41L274.50 343.77L274.70 344.12L274.90 344.44L275.10 344.74L275.30 345.02L275.50 345.29L275.70 345.55L275.90 345.79L276.10 346.02L276.30 346.25L276.50 346.46L276.70 346.66L276.90 346.86L277.10 347.05L277.30 347.23L277.50 347.41L277.70 347.58L277.90 347.74L278.10 347.90L278.30 348.05L278.50 348.20L278.70 348.35L278.90 348.49L279.10 348.62L279.30 348.75L279.50 348.88L279.70 349.00L279.90 349.12L280.10 349.23L280.30 349.35L280.50 349.45L280.70 349.56L280.90 349.66L281.10 349.76L281.30 349.85L281.50 349.95L281.70 350.04L281.90 350.12L282.10 350.21L282.30 350.29L282.50 350.37L282.70 350.45L282.90 350.52L283.10 350.59L283.30 350.66L283.50 350.73L283.70 350.80L283.90 350.86L284.10 350.92L284.30 350.98L284.50 351.04L284.70 351.10L284.90 351.15L285.10 351.21L285.30 351.26L285.50 351.31L285.70 351.36L285.90 351.40L286.10 351.45L286.30 351.49L286.50 351.54L286.70 351.58L286.90 351.62L287.10 351.66L287.30 351.70L287.50 351.73L287.70 351.77L287.90 351.80L288.10 351.84L288.30 351.87L288.50 351.90L288.50 351.90L288.50 351.90L288.70 342.60L288.90 335.27L289.10 329.49L289.30 324.89L289.50 321.21L289.70 318.25L289.90 315.85L290.10 313.89L290.30 312.28L290.50 310.95L290.70 309.83L290.90 308.88L291.10 308.08L291.30 307.38L291.50 306.78L291.70 306.26L291.90 305.80L292.10 305.40L292.30 305.03L292.50 304.71L292.70 304.42L292.90 304.16L293.10 303.92L293.30 303.71L293.50 303.51L293.70 303.33L293.90 303.17L294.10 303.02L294.30 302.88L294.50 302.76L294.70 302.64L294.90 302.53L295.10 302.44L295.30 302.35L295.50 302.26L295.70 302.19L295.90 302.12L296.10 302.05L296.30 301.99L296.50 301.94L296.70 301.88L296.90 301.84L297.10 301.79L297.30 301.75L297.50 301.72L297.60 301.70L297.80 310.34L298.00 316.96L298.20 322.05L298.40 325.98L298.60 329.05L298.80 331.47L299.00 333.39L299.20 334.93L299.40 336.18L299.60 337.22L299.80 338.09L300.00 338.84L300.20 339.48L300.40 340.05L300.60 340.56L300.80 341.02L301.00 341.45L301.20 341.84L301.40 342.20L301.60 342.55L301.80 342.87L302.00 343.18L302.20 343.48L302.40 343.77L302.60 344.04L302.80 344.30L303.00 344.56L303.20 344.80L303.40 345.04L303.60 345.27L303.80 345.49L304.00 345.71L304.20 345.91L304.40 346.12L304.60 346.31L304.80 346.50L305.00 346.68L305.20 346.86L305.40 347.03L305.60 347.20L305.80 347.36L306.00 347.52L306.20 347.67L306.40 347.82L306.60 347.96L306.80 348.10L307.00 348.24L307.20 348.37L307.40 348.49L307.60 348.62L307.80 348.74L308.00 348.85L308.20 348.96L308.40 349.07L308.60 349.18L308.80 349.28L309.00 349.38L309.20 349.48L309.40 349.57L309.60 349.66L309.80 349.75L310.00 349.83L310.20 349.91L310.40 349.99L310.60 350.07L310.80 350.15L311.00 350.22L311.20 350.29L311.40 350.36L311.60 350.42L311.80 350.49L312.00 350.55L312.20 350.61L312.40 350.67L312.60 350.73L312.80 350.78L313.00 350.84L313.20 350.89L313.40 350.94L313.60 350.99L313.80 351.03L314.00 351.08L314.20 351.12L314.40 351.17L314.60 351.21L314.80 351.25L315.00 351.29L315.20 351.33L315.40 351.36L315.60 351.40L315.60 351.40L315.60 351.40L315.80 339.97L316.00 331.15L316.20 324.31L316.40 318.98L316.60 314.79L316.80 311.47L317.00 308.83L317.20 306.70L317.40 304.97L317.60 303.55L317.80 302.37L318.00 301.37L318.20 300.54L318.40 299.82L318.60 299.19L318.80 298.65L319.00 298.18L319.20 297.75L319.40 297.38L319.60 297.04L319.80 296.74L320.00 296.46L320.20 296.22L320.40 295.99L320.60 295.78L320.80 295.59L321.00 295.42L321.20 295.26L321.40 295.12L321.60 294.98L321.80 294.86L322.00 294.74L322.20 294.64L322.40 294.54L322.60 294.45L322.80 294.37L323.00 294.30L323.20 294.23L323.40 294.16L323.60 294.10L323.80 294.05L324.00 294.00L324.20 293.95L324.40 293.91L324.60 293.87L324.80 293.83L325.00 293.80L325.20 305.61L325.40 314.22L325.60 320.53L325.80 325.18L326.00 328.65L326.20 331.26L326.40 333.25L326.60 334.80L326.80 336.02L327.00 337.01L327.20 337.83L327.40 338.52L327.60 339.12L327.80 339.64L328.00 340.12L328.20 340.55L328.40 340.95L328.60 341.32L328.80 341.68L329.00 342.01L329.20 342.33L329.40 342.64L329.60 342.93L329.80 343.22L330.00 343.49L330.20 343.76L330.40 344.01L330.60 344.26L330.80 344.50L331.00 344.73L331.20 344.96L331.40 345.18L331.60 345.39L331.80 345.59L332.00 345.79L332.20 345.98L332.40 346.17L332.60 346.35L332.80 346.53L333.00 346.70L333.20 346.86L333.40 347.02L333.60 347.18L333.80 347.33L334.00 347.48L334.20 347.62L334.40 347.76L334.60 347.89L334.80 348.02L335.00 348.14L335.20 348.27L335.40 348.38L335.60 348.50L335.80 348.61L336.00 348.72L336.20 348.82L336.40 348.92L336.60 349.02L336.80 349.11L337.00 349.21L337.20 349.30L337.40 349.38L337.60 349.47L337.80 349.55L338.00 349.63L338.20 349.70L338.40 349.78L338.60 349.85L338.80 349.92L339.00 349.99L339.20 350.05L339.40 350.12L339.60 350.18L339.80 350.24L340.00 350.30L340.20 350.35L340.40 350.41L340.60 350.46L340.80 350.51L341.00 350.56L341.20 350.61L341.40 350.66L341.60 350.70L341.80 350.74L342.00 350.79L342.20 350.83L342.40 350.87L342.60 350.91L342.80 350.95L343.00 350.98L343.10 351.00L343.10 351.00L343.30 338.55L343.50 328.96L343.70 321.55L343.90 315.78L344.10 311.26L344.30 307.70L344.50 304.87L344.70 302.60L344.90 300.77L345.10 299.27L345.30 298.03L345.50 296.99L345.70 296.12L345.90 295.38L346.10 294.74L346.30 294.18L346.50 293.70L346.70 293.27L346.90 292.89L347.10 292.54L347.30 292.24L347.50 291.96L347.70 291.71L347.90 291.48L348.10 291.27L348.30 291.08L348.50 290.91L348.70 290.75L348.90 290.61L349.10 290.47L349.30 290.35L349.50 290.23L349.70 290.13L349.90 290.03L350.10 289.94L350.30 289.86L350.50 289.79L350.70 289.72L350.90 289.65L351.10 289.59L351.30 289.54L351.50 289.49L351.70 289.44L351.90 289.40L352.10 303.36L352.30 313.22L352.50 320.22L352.70 325.24L352.90 328.87L353.10 331.53L353.30 333.52L353.50 335.03L353.70 336.20L353.90 337.14L354.10 337.91L354.30 338.57L354.50 339.13L354.70 339.63L354.90 340.09L355.10 340.50L355.30 340.89L355.50 341.26L355.70 341.60L355.90 341.93L356.10 342.25L356.30 342.56L356.50 342.85L356.70 343.14L356.90 343.41L357.10 343.68L357.30 343.93L357.50 344.18L357.70 344.42L357.90 344.66L358.10 344.88L358.30 345.10L358.50 345.32L358.70 345.52L358.90 345.72L359.10 345.92L359.30 346.11L359.50 346.29L359.70 346.47L359.90 346.64L360.10 346.81L360.30 346.97L360.50 347.12L360.70 347.28L360.90 347.42L361.10 347.57L361.30 347.70L361.50 347.84L361.70 347.97L361.90 348.09L362.10 348.22L362.30 348.34L362.50 348.45L362.70 348.56L362.90 348.67L363.10 348.78L363.30 348.88L363.50 348.98L363.70 349.07L363.90 349.17L364.10 349.26L364.30 349.34L364.50 349.43L364.70 349.51L364.90 349.59L365.10 349.67L365.30 349.74L365.50 349.81L365.70 349.88L365.90 349.95L366.10 350.02L366.30 350.08L366.50 350.14L366.70 350.21L366.90 350.26L367.10 350.32L367.30 350.38L367.50 350.43L367.70 350.48L367.90 350.53L368.10 350.58L368.30 350.63L368.50 350.67L368.70 350.72L368.90 350.76L369.10 350.80L369.30 350.84L369.50 350.88L369.60 350.90L369.60 350.90L369.80 335.40L370.00 324.03L370.20 315.64L370.40 309.40L370.60 304.72L370.80 301.17L371.00 298.45L371.20 296.34L371.40 294.67L371.60 293.34L371.80 292.26L372.00 291.36L372.20 290.61L372.40 289.97L372.60 289.41L372.80 288.93L373.00 288.50L373.20 288.13L373.40 287.79L373.60 287.48L373.80 287.20L374.00 286.95L374.20 286.72L374.40 286.51L374.60 286.31L374.80 286.14L375.00 285.97L375.20 285.82L375.40 285.69L375.60 285.56L375.80 285.44L376.00 285.33L376.20 285.23L376.40 285.14L376.60 285.06L376.80 284.98L377.00 284.91L377.20 284.84L377.40 284.78L377.60 284.72L377.80 284.67L378.00 284.62L378.20 284.58L378.40 284.54L378.60 284.50L378.80 284.46L379.00 284.43L379.20 284.40L379.40 301.44L379.60 313.03L379.80 320.95L380.00 326.41L380.20 330.21L380.40 332.90L380.60 334.84L380.80 336.28L381.00 337.37L381.20 338.22L381.40 338.92L381.60 339.50L381.80 340.00L382.00 340.45L382.20 340.86L382.40 341.24L382.60 341.59L382.80 341.92L383.00 342.24L383.20 342.55L383.40 342.84L383.60 343.12L383.80 343.40L384.00 343.66L384.20 343.92L384.40 344.17L384.60 344.41L384.80 344.64L385.00 344.86L385.20 345.08L385.40 345.29L385.60 345.50L385.80 345.70L386.00 345.89L386.20 346.08L386.40 346.26L386.60 346.44L386.80 346.61L387.00 346.77L387.20 346.93L387.40 347.09L387.60 347.24L387.80 347.39L388.00 347.53L388.20 347.67L388.40 347.80L388.60 347.93L388.80 348.06L389.00 348.18L389.20 348.30L389.40 348.41L389.60 348.52L389.80 348.63L390.00 348.73L390.20 348.83L390.40 348.93L390.60 349.03L390.80 349.12L391.00 349.21L391.20 349.30L391.40 349.38L391.60 349.46L391.80 349.54L392.00 349.62L392.20 349.69L392.40 349.76L392.60 349.83L392.80 349.90L393.00 349.97L393.20 350.03L393.40 350.09L393.60 350.15L393.80 350.21L394.00 350.27L394.20 350.32L394.40 350.38L394.60 350.43L394.80 350.48L395.00 350.53L395.20 350.57L395.40 350.62L395.60 350.66L395.80 350.70L396.00 350.75L396.20 350.79L396.40 350.83L396.60 350.86L396.80 350.90L396.80 350.90L397.00 355.30L400.50 355.90L407.30 358.60L415.20 361.00L415.20 361.00L415.40 354.95L415.60 350.08L415.80 346.13L416.00 342.92L416.20 340.29L416.40 338.12L416.60 336.32L416.80 334.82L417.00 333.55L417.20 332.48L417.40 331.57L417.60 330.78L417.80 330.10L418.00 329.51L418.20 328.99L418.40 328.53L418.60 328.13L418.80 327.76L419.00 327.44L419.20 327.15L419.40 326.89L419.60 326.65L419.80 326.43L420.00 326.24L420.20 326.06L420.40 325.89L420.60 325.74L420.80 325.61L421.00 325.48L421.20 325.37L421.40 325.26L421.60 325.16L421.80 325.07L422.00 324.99L422.20 324.91L422.40 324.84L422.60 324.78L422.80 324.72L423.00 324.67L423.20 324.62L423.40 324.57L423.60 324.53L423.80 324.49L424.00 324.45L424.20 324.42L424.30 324.40L424.50 329.07L424.70 332.97L424.90 336.23L425.10 338.96L425.30 341.27L425.50 343.21L425.70 344.87L425.90 346.28L426.10 347.50L426.30 348.55L426.50 349.46L426.70 350.26L426.90 350.97L427.10 351.59L427.30 352.15L427.50 352.66L427.70 353.12L427.90 353.53L428.10 353.92L428.30 354.27L428.50 354.60L428.70 354.91L428.90 355.20L429.10 355.48L429.30 355.73L429.50 355.98L429.70 356.21L429.90 356.44L430.10 356.65L430.30 356.85L430.50 357.05L430.70 357.24L430.90 357.42L431.10 357.60L431.30 357.77L431.50 357.93L431.70 358.09L431.90 358.24L432.10 358.39L432.30 358.53L432.50 358.67L432.70 358.80L432.90 358.93L433.10 359.06L433.30 359.18L433.50 359.30L433.70 359.41L433.90 359.52L434.10 359.63L434.30 359.73L434.50 359.83L434.70 359.93L434.90 360.03L435.10 360.12L435.30 360.21L435.50 360.29L435.70 360.38L435.90 360.46L436.10 360.54L436.30 360.61L436.50 360.69L436.70 360.76L436.90 360.83L437.10 360.90L437.30 360.96L437.50 361.03L437.70 361.09L437.90 361.15L438.10 361.20L438.30 361.26L438.50 361.32L438.70 361.37L438.90 361.42L439.10 361.47L439.30 361.52L439.50 361.56L439.70 361.61L439.90 361.65L440.10 361.69L440.30 361.74L440.50 361.78L440.70 361.81L440.90 361.85L441.10 361.89L441.30 361.92L441.50 361.96L441.70 361.99L441.90 362.02L442.10 362.05L442.30 362.09L442.40 362.10L442.40 362.10L442.60 354.10L442.80 347.65L443.00 342.42L443.20 338.17L443.40 334.69L443.60 331.82L443.80 329.43L444.00 327.44L444.20 325.77L444.40 324.35L444.60 323.14L444.80 322.10L445.00 321.20L445.20 320.42L445.40 319.73L445.60 319.13L445.80 318.59L446.00 318.11L446.20 317.68L446.40 317.30L446.60 316.95L446.80 316.63L447.00 316.35L447.20 316.09L447.40 315.85L447.60 315.63L447.80 315.44L448.00 315.26L448.20 315.09L448.40 314.94L448.60 314.80L448.80 314.67L449.00 314.55L449.20 314.44L449.40 314.34L449.60 314.25L449.80 314.16L450.00 314.08L450.20 314.01L450.40 313.94L450.60 313.88L450.80 313.82L451.00 313.77L451.20 313.72L451.40 313.68L451.60 313.64L451.80 313.60L451.80 313.60L452.00 319.47L452.20 324.37L452.40 328.47L452.60 331.91L452.80 334.80L453.00 337.25L453.20 339.34L453.40 341.11L453.60 342.64L453.80 343.96L454.00 345.11L454.20 346.12L454.40 347.00L454.60 347.79L454.80 348.50L455.00 349.13L455.20 349.71L455.40 350.23L455.60 350.71L455.80 351.16L456.00 351.58L456.20 351.96L456.40 352.33L456.60 352.67L456.80 353.00L457.00 353.30L457.20 353.60L457.40 353.88L457.60 354.15L457.80 354.40L458.00 354.65L458.20 354.89L458.40 355.12L458.60 355.34L458.80 355.55L459.00 355.76L459.20 355.96L459.40 356.15L459.60 356.33L459.80 356.51L460.00 356.69L460.20 356.85L460.40 357.02L460.60 357.18L460.80 357.33L461.00 357.48L461.20 357.62L461.40 357.76L461.60 357.89L461.80 358.03L462.00 358.15L462.20 358.27L462.40 358.39L462.60 358.51L462.80 358.62L463.00 358.73L463.20 358.83L463.40 358.94L463.60 359.04L463.80 359.13L464.00 359.22L464.20 359.32L464.40 359.40L464.60 359.49L464.80 359.57L465.00 359.65L465.20 359.73L465.40 359.80L465.60 359.87L465.80 359.94L466.00 360.01L466.20 360.08L466.40 360.14L466.60 360.21L466.80 360.27L467.00 360.32L467.20 360.38L467.40 360.44L467.60 360.49L467.80 360.54L468.00 360.59L468.20 360.64L468.40 360.69L468.60 360.73L468.80 360.78L469.00 360.82L469.20 360.86L469.40 360.90L469.60 360.94L469.80 360.98L469.90 361.00L469.90 361.00L470.10 351.75L470.30 344.30L470.50 338.26L470.70 333.35L470.90 329.32L471.10 326.00L471.30 323.25L471.50 320.95L471.70 319.02L471.90 317.38L472.10 315.98L472.30 314.78L472.50 313.74L472.70 312.84L472.90 312.04L473.10 311.34L473.30 310.72L473.50 310.17L473.70 309.67L473.90 309.23L474.10 308.82L474.30 308.46L474.50 308.13L474.70 307.83L474.90 307.56L475.10 307.31L475.30 307.08L475.50 306.87L475.70 306.68L475.90 306.50L476.10 306.34L476.30 306.19L476.50 306.05L476.70 305.93L476.90 305.81L477.10 305.70L477.30 305.60L477.50 305.51L477.70 305.43L477.90 305.35L478.10 305.28L478.30 305.22L478.50 305.16L478.70 305.10L478.90 305.05L479.10 305.00L479.10 305.00L479.30 311.84L479.50 317.54L479.70 322.30L479.90 326.31L480.10 329.68L480.30 332.53L480.50 334.95L480.70 337.02L480.90 338.80L481.10 340.33L481.30 341.67L481.50 342.84L481.70 343.87L481.90 344.79L482.10 345.61L482.30 346.34L482.50 347.01L482.70 347.63L482.90 348.19L483.10 348.71L483.30 349.19L483.50 349.64L483.70 350.07L483.90 350.47L484.10 350.84L484.30 351.20L484.50 351.54L484.70 351.87L484.90 352.18L485.10 352.48L485.30 352.77L485.50 353.05L485.70 353.31L485.90 353.57L486.10 353.82L486.30 354.06L486.50 354.29L486.70 354.51L486.90 354.73L487.10 354.94L487.30 355.14L487.50 355.33L487.70 355.52L487.90 355.71L488.10 355.89L488.30 356.06L488.50 356.22L488.70 356.39L488.90 356.54L489.10 356.70L489.30 356.84L489.50 356.99L489.70 357.12L489.90 357.26L490.10 357.39L490.30 357.52L490.50 357.64L490.70 357.76L490.90 357.87L491.10 357.98L491.30 358.09L491.50 358.20L491.70 358.30L491.90 358.40L492.10 358.49L492.30 358.59L492.50 358.68L492.70 358.76L492.90 358.85L493.10 358.93L493.30 359.01L493.50 359.09L493.70 359.16L493.90 359.23L494.10 359.30L494.30 359.37L494.50 359.44L494.70 359.50L494.90 359.56L495.10 359.62L495.30 359.68L495.50 359.74L495.70 359.80L495.90 359.85L496.10 359.90L496.30 359.95L496.50 360.00L496.70 360.05L496.90 360.09L497.10 360.14L497.30 360.18L497.40 360.20L497.40 360.20L497.60 350.33L497.80 342.37L498.00 335.93L498.20 330.68L498.40 326.38L498.60 322.84L498.80 319.91L499.00 317.45L499.20 315.39L499.40 313.64L499.60 312.15L499.80 310.87L500.00 309.76L500.20 308.79L500.40 307.94L500.60 307.19L500.80 306.53L501.00 305.94L501.20 305.41L501.40 304.93L501.60 304.50L501.80 304.12L502.00 303.76L502.20 303.44L502.40 303.15L502.60 302.88L502.80 302.64L503.00 302.42L503.20 302.21L503.40 302.02L503.60 301.85L503.80 301.69L504.00 301.55L504.20 301.41L504.40 301.29L504.60 301.17L504.80 301.07L505.00 300.97L505.20 300.88L505.40 300.80L505.60 300.72L505.80 300.65L506.00 300.59L506.20 300.53L506.30 300.50L506.50 307.80L506.70 313.88L506.90 318.97L507.10 323.24L507.30 326.84L507.50 329.88L507.70 332.46L507.90 334.67L508.10 336.57L508.30 338.21L508.50 339.64L508.70 340.88L508.90 341.99L509.10 342.96L509.30 343.84L509.50 344.63L509.70 345.34L509.90 345.99L510.10 346.59L510.30 347.15L510.50 347.66L510.70 348.15L510.90 348.60L511.10 349.02L511.30 349.43L511.50 349.81L511.70 350.18L511.90 350.52L512.10 350.86L512.30 351.18L512.50 351.48L512.70 351.78L512.90 352.06L513.10 352.34L513.30 352.60L513.50 352.86L513.70 353.10L513.90 353.34L514.10 353.57L514.30 353.80L514.50 354.01L514.70 354.22L514.90 354.42L515.10 354.62L515.30 354.81L515.50 354.99L515.70 355.17L515.90 355.34L516.10 355.51L516.30 355.67L516.50 355.83L516.70 355.98L516.90 356.13L517.10 356.28L517.30 356.41L517.50 356.55L517.70 356.68L517.90 356.81L518.10 356.93L518.30 357.05L518.50 357.16L518.70 357.28L518.90 357.38L519.10 357.49L519.30 357.59L519.50 357.69L519.70 357.79L519.90 357.88L520.10 357.97L520.30 358.06L520.50 358.14L520.70 358.23L520.90 358.30L521.10 358.38L521.30 358.46L521.50 358.53L521.70 358.60L521.90 358.67L522.10 358.74L522.30 358.80L522.50 358.86L522.70 358.92L522.90 358.98L523.10 359.04L523.30 359.09L523.50 359.15L523.70 359.20L523.90 359.25L524.10 359.30L524.30 359.35L524.50 359.39L524.70 359.44L524.90 359.48L525.00 359.50L525.00 359.50L525.20 348.86L525.40 340.28L525.60 333.33L525.80 327.68L526.00 323.04L526.20 319.23L526.40 316.06L526.60 313.41L526.80 311.19L527.00 309.30L527.20 307.70L527.40 306.31L527.60 305.12L527.80 304.07L528.00 303.16L528.20 302.35L528.40 301.64L528.60 301.00L528.80 300.43L529.00 299.92L529.20 299.46L529.40 299.04L529.60 298.66L529.80 298.31L530.00 298.00L530.20 297.71L530.40 297.45L530.60 297.20L530.80 296.98L531.00 296.78L531.20 296.59L531.40 296.42L531.60 296.27L531.80 296.12L532.00 295.99L532.20 295.86L532.40 295.75L532.60 295.65L532.80 295.55L533.00 295.46L533.20 295.38L533.40 295.30L533.60 295.23L533.70 295.20L533.90 303.22L534.10 309.91L534.30 315.50L534.50 320.20L534.70 324.15L534.90 327.50L535.10 330.34L535.30 332.77L535.50 334.85L535.70 336.65L535.90 338.22L536.10 339.60L536.30 340.81L536.50 341.88L536.70 342.84L536.90 343.71L537.10 344.49L537.30 345.21L537.50 345.87L537.70 346.48L537.90 347.05L538.10 347.58L538.30 348.08L538.50 348.54L538.70 348.99L538.90 349.41L539.10 349.81L539.30 350.19L539.50 350.56L539.70 350.91L539.90 351.25L540.10 351.57L540.30 351.89L540.50 352.19L540.70 352.48L540.90 352.76L541.10 353.03L541.30 353.29L541.50 353.54L541.70 353.79L541.90 354.03L542.10 354.26L542.30 354.48L542.50 354.69L542.70 354.90L542.90 355.11L543.10 355.30L543.30 355.49L543.50 355.68L543.70 355.85L543.90 356.03L544.10 356.19L544.30 356.36L544.50 356.51L544.70 356.67L544.90 356.82L545.10 356.96L545.30 357.10L545.50 357.23L545.60 357.30" fill="none" stroke="#000" stroke-width="1.9" stroke-linejoin="round"/>
<line x1="545.6" y1="8.1" x2="545.6" y2="375.0" stroke="#000" stroke-width="1.6"/>
<!-- arrows -->
<g stroke="#555" stroke-width="1.0"><line x1="90.5" y1="231.3" x2="239.0" y2="231.3"/><line x1="242.0" y1="231.3" x2="390.5" y2="231.3"/><line x1="393.5" y1="231.3" x2="543.0" y2="231.3"/></g>
<g fill="#000" stroke="#000" stroke-width="0.2"><path d="M90.40 231.30 L97.40 229.00 L95.40 231.30 L97.40 233.60 Z"/><path d="M240.20 231.30 L232.10 229.00 L234.10 231.30 L232.10 233.60 Z"/><path d="M240.80 231.30 L249.10 229.00 L247.10 231.30 L249.10 233.60 Z"/><path d="M391.30 231.30 L383.40 229.00 L385.40 231.30 L383.40 233.60 Z"/><path d="M392.50 231.30 L400.60 229.00 L398.60 231.30 L400.60 233.60 Z"/><path d="M543.80 231.30 L534.80 229.00 L536.80 231.30 L534.80 233.60 Z"/></g>
<!-- labels -->
<g><text x="72.4" y="26.4" text-anchor="end" font-size="15.5" letter-spacing="0.1">1.8x10</text><text x="71.0" y="20.6" font-size="10.5">4</text><text x="72.4" y="77.6" text-anchor="end" font-size="15.5" letter-spacing="0.1">1.2x10</text><text x="71.0" y="71.8" font-size="10.5">4</text><text x="72.4" y="165.1" text-anchor="end" font-size="15.5" letter-spacing="0.1">6x10</text><text x="71.0" y="159.3" font-size="10.5">3</text><text x="72.4" y="252.7" text-anchor="end" font-size="15.5" letter-spacing="0.1">6x10</text><text x="71.0" y="246.9" font-size="10.5">2</text><text x="72.4" y="327.5" text-anchor="end" font-size="15.5" letter-spacing="0.1">4x10</text><text x="71.0" y="321.7" font-size="10.5">2</text><text x="89.30" y="399.1" text-anchor="middle" font-size="15.5" letter-spacing="0.1">0</text><text x="235.30" y="399.1" text-anchor="middle" font-size="15.5" letter-spacing="0.1">8</text><text x="381.30" y="399.1" text-anchor="middle" font-size="15.5" letter-spacing="0.1">16</text><text x="527.30" y="399.1" text-anchor="middle" font-size="15.5" letter-spacing="0.1">24</text></g>
<text x="311" y="411.4" text-anchor="middle" font-size="17" font-weight="bold">Time (h)</text>
<text transform="translate(17.6,181.2) rotate(-90)" text-anchor="middle" font-size="17" font-weight="bold">Electrical resistance <tspan font-weight="normal">(Ω)</tspan></text>
<!-- legend -->
<line x1="407" y1="30.2" x2="446.5" y2="30.2" stroke="#ff0000" stroke-width="1.8"/>
<line x1="407" y1="50.2" x2="446.5" y2="50.2" stroke="#000" stroke-width="1.8"/>
<text x="450.3" y="35.0" font-size="17">NiO1 400</text>
<text x="450.3" y="55.6" font-size="17">NiO2 400</text>
<!-- annotations -->
<text x="101.0" y="35.2" font-size="17.2">T<tspan font-size="12" dy="3.6">op</tspan><tspan dy="-3.6"> = 250 </tspan><tspan font-size="12" dy="-6.2">o</tspan><tspan dy="6.2">C</tspan></text>
<text x="101.2" y="66.5" font-size="17.2">RH: 10, 30, 50%</text>
<text x="127.8" y="226.1" font-size="17">10% RH</text>
<text x="283.3" y="224.6" font-size="17">30% RH</text>
<text x="436.9" y="224.6" font-size="17">50% RH</text>
<text transform="translate(177.6,247.4) scale(0.92,1.3)" font-size="12" style="font-family:'Noto Sans CJK JP', sans-serif;stroke:none">→</text>
<text transform="translate(407.8,248.2) scale(1.12,1)" font-size="18" font-weight="bold" style="font-family:'Liberation Serif', serif;fill:none;stroke:#000;stroke-width:0.7px">¶</text>
<text x="107" y="261.6" font-size="15.6">R<tspan font-size="11" dy="4.9">gas</tspan></text>
<text x="112.6" y="360.9" font-size="15.6">R<tspan font-size="11" dy="4.6">air</tspan></text>
<g stroke="#222" stroke-width="1"><line x1="117.4" y1="272.9" x2="117.4" y2="290"/><line x1="107.0" y1="347" x2="107.0" y2="362.8"/></g>
<g fill="#111"><path d="M114.8 287.1 L120 287.1 L117.4 295.7 Z"/><path d="M104.8 349.8 L109.2 349.8 L107 340.5 Z"/></g>
</svg>
</body></html>
